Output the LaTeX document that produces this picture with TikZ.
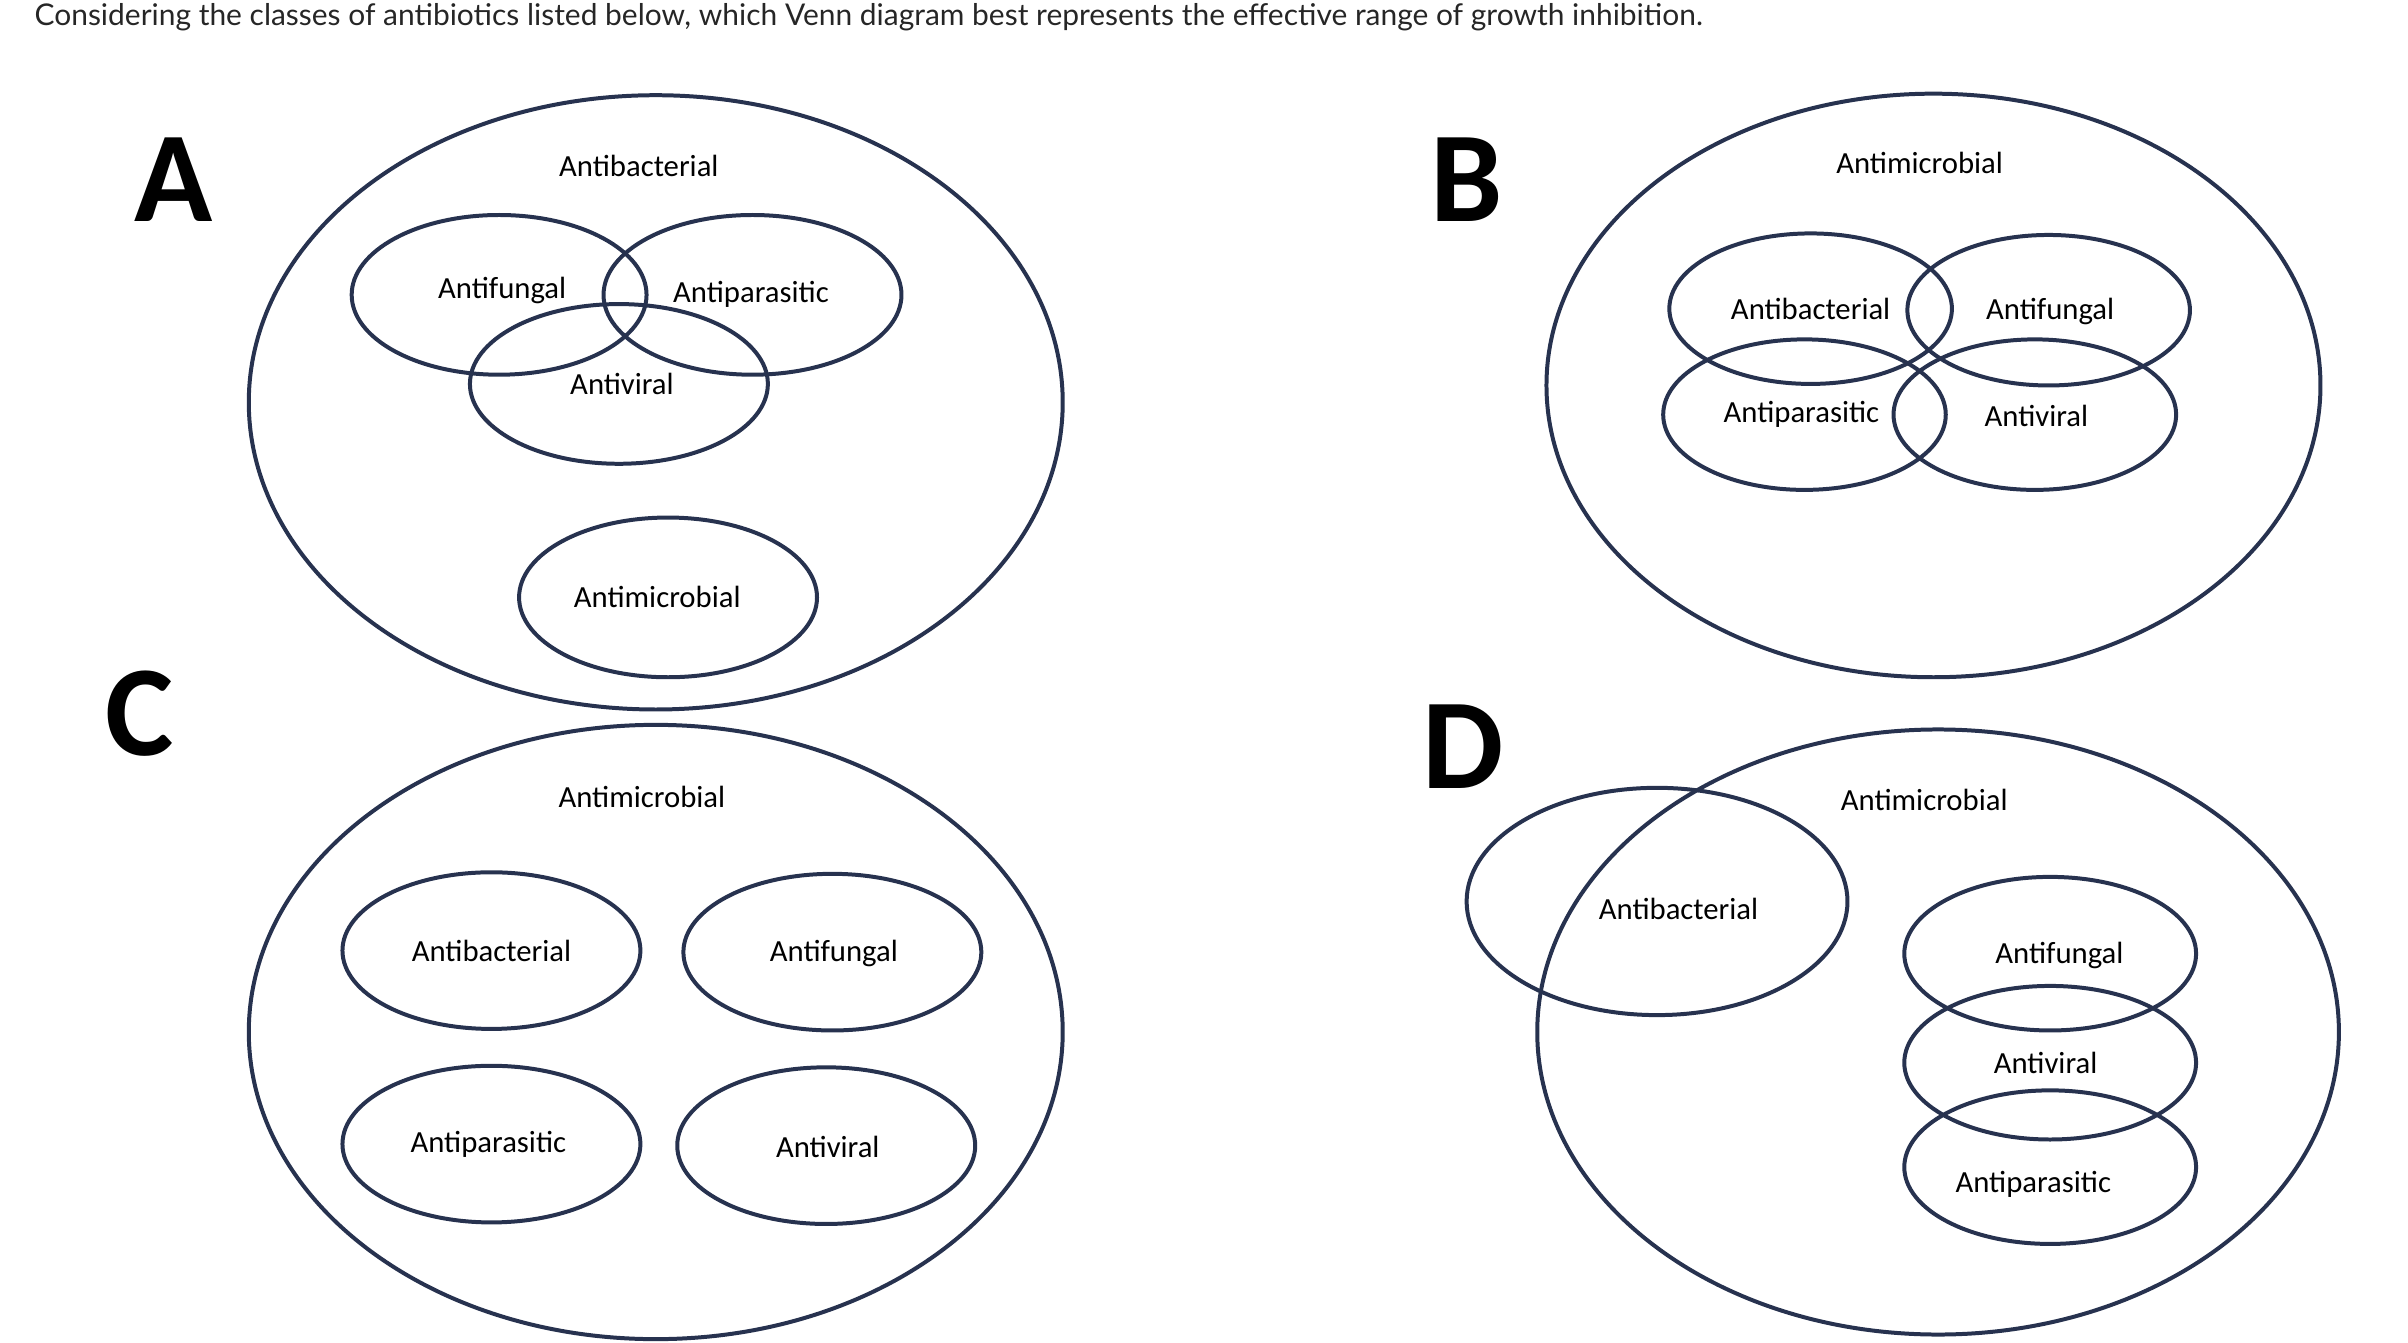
\documentclass[tikz,border=0pt]{standalone}
\usepackage{fontspec}
\setmainfont{Carlito}
\newfontfamily\lato{Lato}
\definecolor{navy}{HTML}{27324F}
\begin{document}
\begin{tikzpicture}[x=1pt,y=-1pt,
  ell/.style={draw=navy,line width=2.6pt},
  lab/.style={font=\fontsize{20}{24}\selectfont,text=black},
  big/.style={font=\fontsize{84}{90}\selectfont\bfseries,text=black}]
\useasboundingbox (0,0) rectangle (1568,874);
\node[anchor=west,font=\lato\fontsize{19.5}{23}\selectfont,text=black!85] (title) at (19,11) {Considering the classes of antibiotics listed below, which Venn diagram best represents the effective range of growth inhibition.};
% A
\node[big] (LA) at (113,117) {A};
\draw[ell] (427,262) ellipse [x radius=265,y radius=200];
\draw[ell] (325,192) ellipse [x radius=96,y radius=52];
\draw[ell] (490,192) ellipse [x radius=97,y radius=52];
\draw[ell] (403,250) ellipse [x radius=97,y radius=52];
\draw[ell] (435,389) ellipse [x radius=97,y radius=52];
\node[lab] (a1) at (416,108) {Antibacterial};
\node[lab] (a2) at (327,189) {Antifungal};
\node[lab] (a3) at (489,192) {Antiparasitic};
\node[lab] (a4) at (405,250) {Antiviral};
\node[lab] (a5) at (428,389) {Antimicrobial};
% B
\node[big] (LB) at (955,117) {B};
\draw[ell] (1259,251) ellipse [x radius=252,y radius=190];
\draw[ell] (1179,201) ellipse [x radius=92,y radius=49];
\draw[ell] (1334,202) ellipse [x radius=92,y radius=49];
\draw[ell] (1175,270) ellipse [x radius=92,y radius=49];
\draw[ell] (1325,270) ellipse [x radius=92,y radius=49];
\node[lab] (b1) at (1250,106) {Antimicrobial};
\node[lab] (b2) at (1179,201) {Antibacterial};
\node[lab] (b3) at (1335,203) {Antifungal};
\node[lab] (b4) at (1173,270) {Antiparasitic};
\node[lab] (b5) at (1326,271) {Antiviral};
% C
\node[big] (LC) at (91,465) {C};
\draw[ell] (427,672) ellipse [x radius=265,y radius=200];
\draw[ell] (320,619) ellipse [x radius=97,y radius=51];
\draw[ell] (542,620) ellipse [x radius=97,y radius=51];
\draw[ell] (320,745) ellipse [x radius=97,y radius=51];
\draw[ell] (538,746) ellipse [x radius=97,y radius=51];
\node[lab] (c1) at (418,519) {Antimicrobial};
\node[lab] (c2) at (320,619) {Antibacterial};
\node[lab] (c3) at (543,621) {Antifungal};
\node[lab] (c4) at (318,745) {Antiparasitic};
\node[lab] (c5) at (539,747) {Antiviral};
% D
\node[big] (LD) at (953,486) {D};
\draw[ell] (1262,672) ellipse [x radius=261,y radius=197];
\draw[ell] (1079,587) ellipse [x radius=124,y radius=74];
\draw[ell] (1335,621) ellipse [x radius=95,y radius=50];
\draw[ell] (1335,692) ellipse [x radius=95,y radius=50];
\draw[ell] (1335,760) ellipse [x radius=95,y radius=50];
\node[lab] (d1) at (1253,521) {Antimicrobial};
\node[lab] (d2) at (1093,592) {Antibacterial};
\node[lab] (d3) at (1341,622) {Antifungal};
\node[lab] (d4) at (1332,692) {Antiviral};
\node[lab] (d5) at (1324,771) {Antiparasitic};
\end{tikzpicture}
\end{document}
